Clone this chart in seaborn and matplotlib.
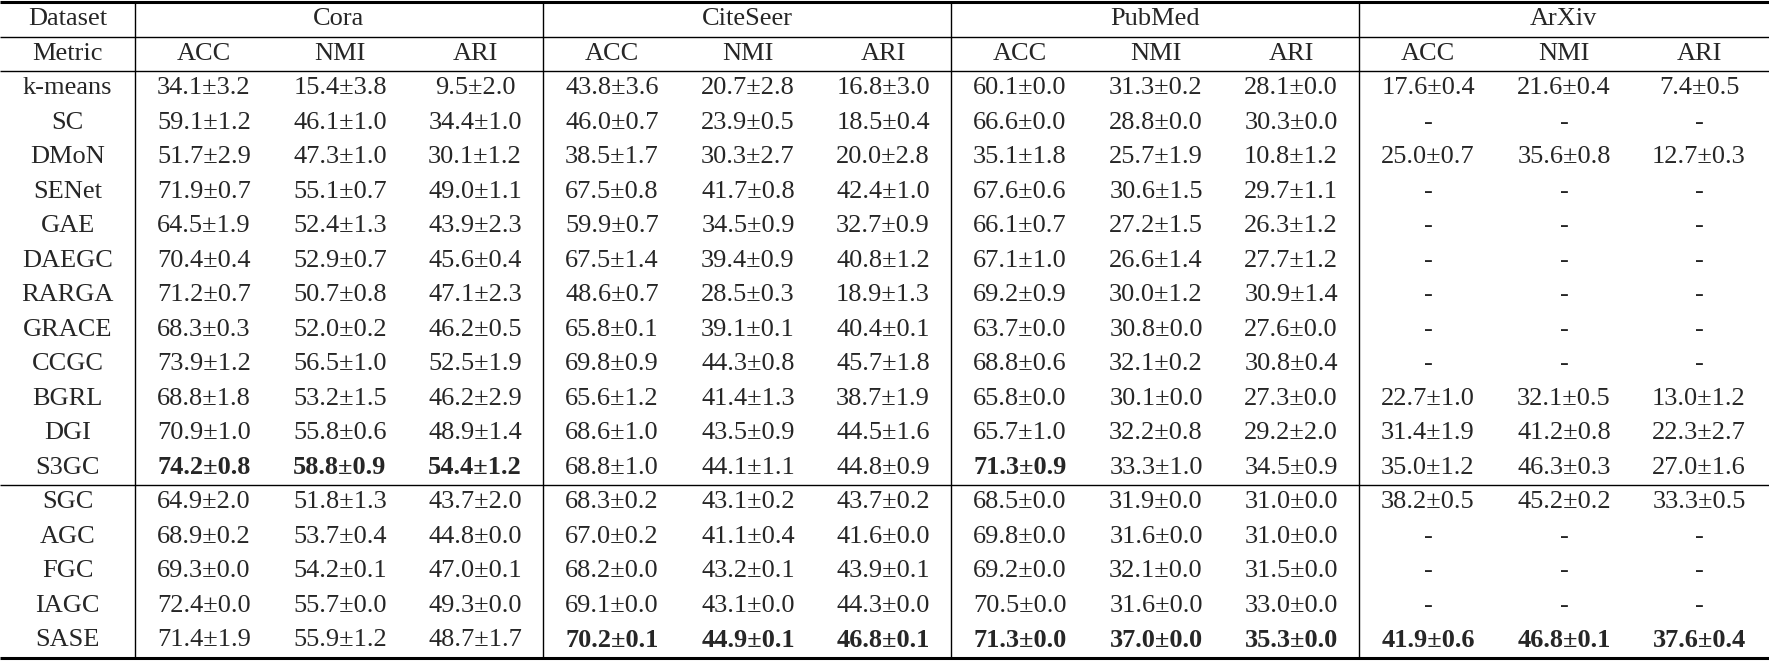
import matplotlib
matplotlib.use("Agg")
import matplotlib.pyplot as plt
import seaborn as sns

sns.set_theme(style="white")
plt.rcParams["font.family"] = ["Liberation Serif", "DejaVu Serif"]

datasets = ["Cora", "CiteSeer", "PubMed", "ArXiv"]
metrics = ["ACC", "NMI", "ARI"]
methods = ["k-means", "SC", "DMoN", "SENet", "GAE", "DAEGC", "RARGA", "GRACE",
           "CCGC", "BGRL", "DGI", "S3GC", "SGC", "AGC", "FGC", "IAGC", "SASE"]
n_upper = 12  # methods above the mid rule

cora = [["34.1±3.2", "15.4±3.8", "9.5±2.0"], ["59.1±1.2", "46.1±1.0", "34.4±1.0"],
        ["51.7±2.9", "47.3±1.0", "30.1±1.2"], ["71.9±0.7", "55.1±0.7", "49.0±1.1"],
        ["64.5±1.9", "52.4±1.3", "43.9±2.3"], ["70.4±0.4", "52.9±0.7", "45.6±0.4"],
        ["71.2±0.7", "50.7±0.8", "47.1±2.3"], ["68.3±0.3", "52.0±0.2", "46.2±0.5"],
        ["73.9±1.2", "56.5±1.0", "52.5±1.9"], ["68.8±1.8", "53.2±1.5", "46.2±2.9"],
        ["70.9±1.0", "55.8±0.6", "48.9±1.4"], ["74.2±0.8", "58.8±0.9", "54.4±1.2"],
        ["64.9±2.0", "51.8±1.3", "43.7±2.0"], ["68.9±0.2", "53.7±0.4", "44.8±0.0"],
        ["69.3±0.0", "54.2±0.1", "47.0±0.1"], ["72.4±0.0", "55.7±0.0", "49.3±0.0"],
        ["71.4±1.9", "55.9±1.2", "48.7±1.7"]]
citeseer = [["43.8±3.6", "20.7±2.8", "16.8±3.0"], ["46.0±0.7", "23.9±0.5", "18.5±0.4"],
            ["38.5±1.7", "30.3±2.7", "20.0±2.8"], ["67.5±0.8", "41.7±0.8", "42.4±1.0"],
            ["59.9±0.7", "34.5±0.9", "32.7±0.9"], ["67.5±1.4", "39.4±0.9", "40.8±1.2"],
            ["48.6±0.7", "28.5±0.3", "18.9±1.3"], ["65.8±0.1", "39.1±0.1", "40.4±0.1"],
            ["69.8±0.9", "44.3±0.8", "45.7±1.8"], ["65.6±1.2", "41.4±1.3", "38.7±1.9"],
            ["68.6±1.0", "43.5±0.9", "44.5±1.6"], ["68.8±1.0", "44.1±1.1", "44.8±0.9"],
            ["68.3±0.2", "43.1±0.2", "43.7±0.2"], ["67.0±0.2", "41.1±0.4", "41.6±0.0"],
            ["68.2±0.0", "43.2±0.1", "43.9±0.1"], ["69.1±0.0", "43.1±0.0", "44.3±0.0"],
            ["70.2±0.1", "44.9±0.1", "46.8±0.1"]]
pubmed = [["60.1±0.0", "31.3±0.2", "28.1±0.0"], ["66.6±0.0", "28.8±0.0", "30.3±0.0"],
          ["35.1±1.8", "25.7±1.9", "10.8±1.2"], ["67.6±0.6", "30.6±1.5", "29.7±1.1"],
          ["66.1±0.7", "27.2±1.5", "26.3±1.2"], ["67.1±1.0", "26.6±1.4", "27.7±1.2"],
          ["69.2±0.9", "30.0±1.2", "30.9±1.4"], ["63.7±0.0", "30.8±0.0", "27.6±0.0"],
          ["68.8±0.6", "32.1±0.2", "30.8±0.4"], ["65.8±0.0", "30.1±0.0", "27.3±0.0"],
          ["65.7±1.0", "32.2±0.8", "29.2±2.0"], ["71.3±0.9", "33.3±1.0", "34.5±0.9"],
          ["68.5±0.0", "31.9±0.0", "31.0±0.0"], ["69.8±0.0", "31.6±0.0", "31.0±0.0"],
          ["69.2±0.0", "32.1±0.0", "31.5±0.0"], ["70.5±0.0", "31.6±0.0", "33.0±0.0"],
          ["71.3±0.0", "37.0±0.0", "35.3±0.0"]]
arxiv = [["17.6±0.4", "21.6±0.4", "7.4±0.5"], ["-", "-", "-"],
         ["25.0±0.7", "35.6±0.8", "12.7±0.3"], ["-", "-", "-"], ["-", "-", "-"],
         ["-", "-", "-"], ["-", "-", "-"], ["-", "-", "-"], ["-", "-", "-"],
         ["22.7±1.0", "32.1±0.5", "13.0±1.2"], ["31.4±1.9", "41.2±0.8", "22.3±2.7"],
         ["35.0±1.2", "46.3±0.3", "27.0±1.6"], ["38.2±0.5", "45.2±0.2", "33.3±0.5"],
         ["-", "-", "-"], ["-", "-", "-"], ["-", "-", "-"],
         ["41.9±0.6", "46.8±0.1", "37.6±0.4"]]
tables = [cora, citeseer, pubmed, arxiv]

# bold cells: (dataset index, method, metric index)
bold = {(0, "S3GC", 0), (0, "S3GC", 1), (0, "S3GC", 2),
        (1, "SASE", 0), (1, "SASE", 1), (1, "SASE", 2),
        (2, "S3GC", 0), (2, "SASE", 0), (2, "SASE", 1), (2, "SASE", 2),
        (3, "SASE", 0), (3, "SASE", 1), (3, "SASE", 2)}

# layout in pixels
W, H = 1769, 662
first_w = 135
group_w = 408
sub_off = [69, 205, 340]
row_h = 34.5
top = 2

fig = plt.figure(figsize=(W / 100, H / 100), dpi=100)
ax = fig.add_axes([0, 0, 1, 1])
ax.set_xlim(0, W)
ax.set_ylim(H, 0)
ax.axis("off")

fs = 19
n_rows = 2 + len(methods)
bottom = top + n_rows * row_h


def row_y(i):
    return top + (i + 0.5) * row_h


ax.text(first_w / 2, row_y(0), "Dataset", ha="center", va="center", fontsize=fs)
ax.text(first_w / 2, row_y(1), "Metric", ha="center", va="center", fontsize=fs)
for g, name in enumerate(datasets):
    x0 = first_w + g * group_w
    ax.text(x0 + group_w / 2, row_y(0), name, ha="center", va="center", fontsize=fs)
    for k, m in enumerate(metrics):
        ax.text(x0 + sub_off[k], row_y(1), m, ha="center", va="center", fontsize=fs)

for r, meth in enumerate(methods):
    y = row_y(r + 2)
    ax.text(first_w / 2, y, meth, ha="center", va="center", fontsize=fs)
    for g, tab in enumerate(tables):
        x0 = first_w + g * group_w
        for k in range(3):
            wt = "bold" if (g, meth, k) in bold else "normal"
            ax.text(x0 + sub_off[k], y, tab[r][k], ha="center", va="center",
                    fontsize=fs, fontweight=wt)

# rules
ax.hlines(top, 0, W, color="black", lw=2.2)
ax.hlines(top + row_h, 0, W, color="black", lw=1.0)
ax.hlines(top + 2 * row_h, 0, W, color="black", lw=1.0)
ax.hlines(top + (2 + n_upper) * row_h, 0, W, color="black", lw=1.0)
ax.hlines(bottom, 0, W, color="black", lw=2.2)
for g in range(4):
    ax.vlines(first_w + g * group_w, top, bottom, color="black", lw=1.0)

fig.savefig("out.png", dpi=100)
